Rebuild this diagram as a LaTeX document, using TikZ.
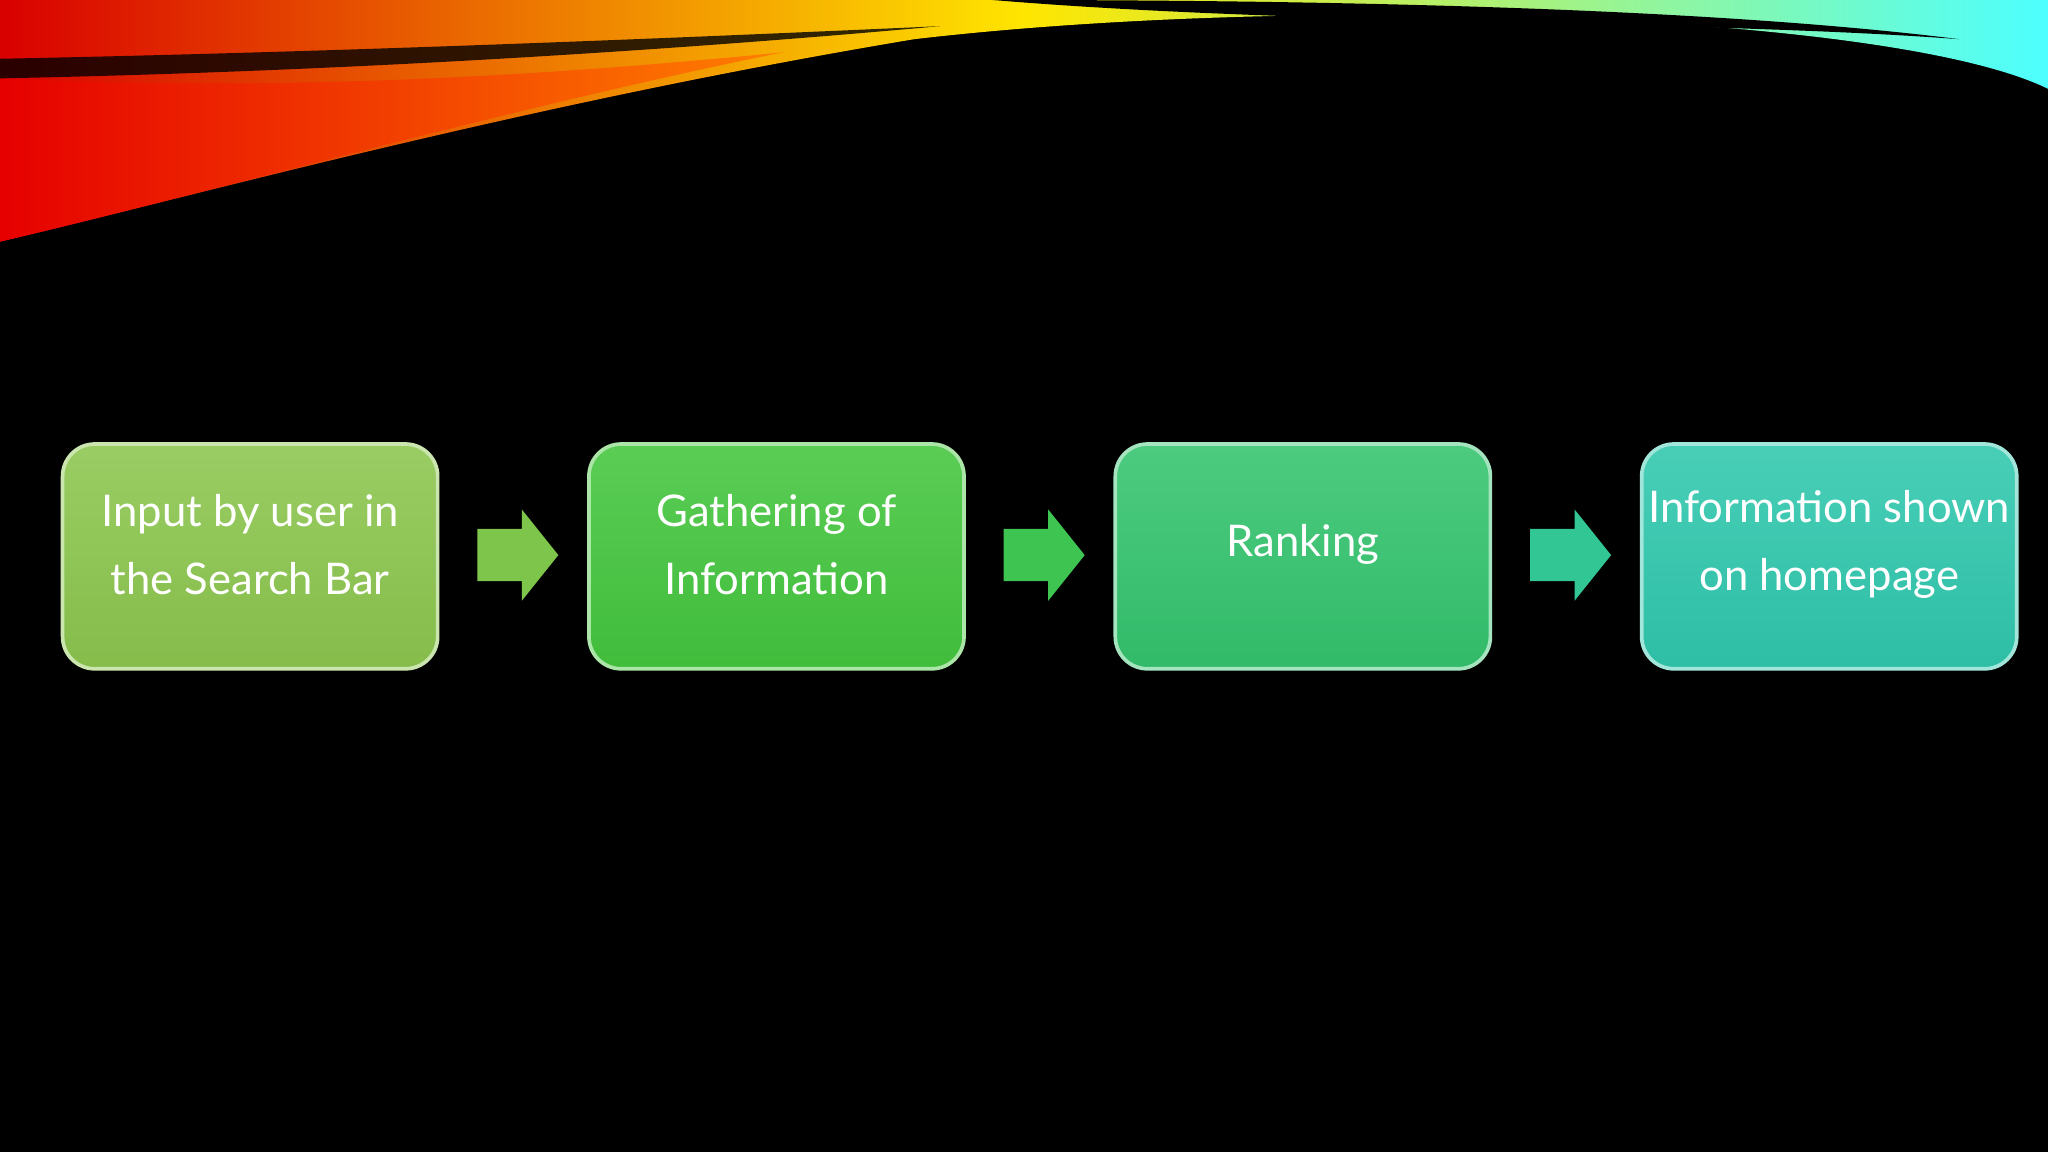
\documentclass[tikz,border=0pt]{standalone}
\usepackage{fontspec}
\setmainfont{Lato}
\usetikzlibrary{calc}
\definecolor{cA}{HTML}{8CC64E}
\definecolor{cB}{HTML}{44C63E}
\definecolor{cC}{HTML}{34C46E}
\definecolor{cD}{HTML}{30C8AE}
\tikzset{
 stepbox/.style={draw=white!55!#1,line width=0.8pt,rounded corners=7pt,minimum width=2.87cm,minimum height=1.72cm,
   top color=#1!88!white,bottom color=#1!95!black,inner sep=0pt},
 lbl/.style={text=white,align=center,font=\fontsize{9.5}{14.7}\selectfont,inner sep=0pt}
}
\begin{document}
\begin{tikzpicture}[x=0.01cm,y=-0.01cm]
\useasboundingbox (0,0) rectangle (1568,882);
\fill[black] (0,0) rectangle (1568,882);
% swoosh
\shade[left color=red!85!black,right color=cyan!70!white,middle color=yellow!80!orange]
 (0,0) -- (1568,0) -- (1568,68) .. controls (1450,10) and (1000,-5) .. (700,30) .. controls (400,80) and (150,150) .. (0,185) -- cycle;
\shade[left color=red!90!black,right color=orange] (0,60) .. controls (200,70) and (400,60) .. (600,40) .. controls (400,80) and (150,150) .. (0,185) -- cycle;
\fill[black,opacity=0.8] (0,45) .. controls (250,40) and (500,30) .. (720,20) .. controls (500,40) and (250,55) .. (0,60) -- cycle;
\fill[black] (760,0) .. controls (1000,20) and (1300,15) .. (1500,30) .. controls (1300,5) and (1000,0) .. (760,0) -- cycle;
% boxes
\node[stepbox=cA] (b1) at (191.5,426) {};
\node[stepbox=cB] (b2) at (594.5,426) {};
\node[stepbox=cC] (b3) at (997.5,426) {};
\node[stepbox=cD] (b4) at (1400.5,426) {};
\node[lbl] (t1) at (191.5,417) {Input by user in\\the Search Bar};
\node[lbl] (t2) at (594.5,417) {Gathering of\\Information};
\node[lbl] (t3) at (997.5,417) {Ranking};
\node[lbl] (t4) at (1400.5,417) {Information shown\\on homepage};
% arrows
\foreach \a/\c in {b1/cA!80!cB,b2/cB!60!cC,b3/cC!40!cD}{
 \fill[\c] ($(\a.east)+(29,-21)$) -- ++(34,0) -- ++(0,-15) -- ++(28,35) -- ++(-28,35) -- ++(0,-15) -- ++(-34,0) -- cycle;
}
\end{tikzpicture}
\end{document}
